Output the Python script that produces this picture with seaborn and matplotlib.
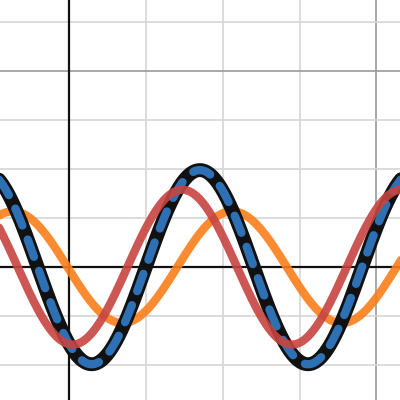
import numpy as np
import seaborn as sns
import matplotlib.pyplot as plt

sns.set_style('white')

# curve parameters: amplitude, peak position, period
names = ['black', 'red', 'orange']
amps = [1.98, 1.58, 1.14]
peaks = [1.70, 1.47, 2.12]
periods = [2.82, 2.86, 2.86]

xs = np.linspace(-1, 4.5, 800)
curves = {n: a * np.cos(2 * np.pi * (xs - p) / T) for n, a, p, T in zip(names, amps, peaks, periods)}

fig = plt.figure(figsize=(4, 4), dpi=100)
ax = fig.add_axes([0, 0, 1, 1])
ax.set_xlim(-0.906, 4.31)
ax.set_ylim(-2.71, 5.45)

for x in range(0, 5):
    ax.axvline(x, color='#999' if x == 4 else '#d6d6d6', lw=1.2, zorder=0)
for y in range(-2, 6):
    ax.axhline(y, color='#999' if y == 4 else '#d6d6d6', lw=1.2, zorder=0)
ax.axhline(0, color='#111', lw=1.6, zorder=1)
ax.axvline(0, color='#111', lw=1.6, zorder=1)

sns.lineplot(x=xs, y=curves['orange'], color='#fa7e19', lw=6, alpha=0.9, ax=ax, zorder=2)
sns.lineplot(x=xs, y=curves['black'], color='#111', lw=10, ax=ax, zorder=3)
line = sns.lineplot(x=xs, y=curves['black'], color='#2d70b3', lw=6, ax=ax, zorder=4).lines[-1]
line.set_linestyle((0, (2.2, 1.8)))
line.set_dash_capstyle('round')
sns.lineplot(x=xs, y=curves['red'], color='#c74440', lw=6, alpha=0.9, ax=ax, zorder=5)

ax.set_xticks([])
ax.set_yticks([])
for s in ax.spines.values():
    s.set_visible(False)
fig.savefig('out.png', dpi=100)
